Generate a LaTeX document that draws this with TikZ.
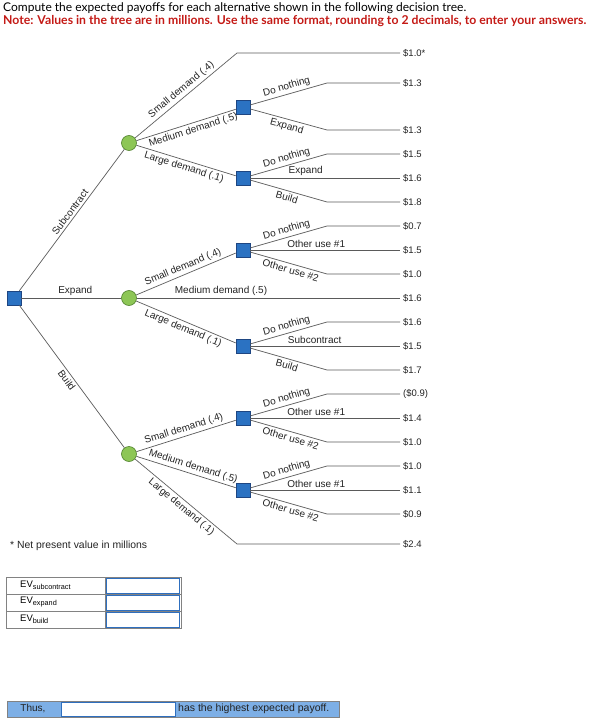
\documentclass[tikz,border=0pt]{standalone}
\usepackage{graphicx}
\usepackage{fontspec}
\setmainfont{Liberation Sans}
\newfontfamily\titlefont{Lato}
\definecolor{sqblue}{RGB}{43,114,194}
\definecolor{sqedge}{RGB}{30,70,130}
\definecolor{cgreen}{RGB}{141,198,86}
\definecolor{cedge}{RGB}{80,130,45}
\definecolor{linegray}{RGB}{90,90,90}
\definecolor{notered}{RGB}{196,26,22}
\definecolor{fieldblue}{RGB}{46,111,191}
\definecolor{barblue}{RGB}{125,175,230}
\definecolor{tablegray}{RGB}{130,130,130}
\definecolor{txt}{RGB}{35,35,35}
\begin{document}
\begin{tikzpicture}[x=1pt,y=-1pt,
  decision/.style={draw=sqedge,fill=sqblue,minimum size=14pt,inner sep=0pt,line width=0.6pt},
  chance/.style={circle,draw=cedge,fill=cgreen,minimum size=15pt,inner sep=0pt,line width=0.6pt},
  branch/.style={draw=linegray,line width=0.7pt},
  val/.style={anchor=west,inner xsep=3pt,inner ysep=0pt,font=\fontsize{9.5}{11}\selectfont,text=txt},
  lbl/.style={font=\fontsize{10}{12}\selectfont,inner sep=2.3pt,text=txt},
  field/.style={draw=fieldblue,line width=0.9pt,fill=white,minimum width=73pt,minimum height=15pt,inner sep=0pt},
  evlbl/.style={anchor=west,inner sep=0pt,font=\fontsize{9.5}{10}\selectfont,text=black},
  evsub/.style={}
]
\useasboundingbox (0,0) rectangle (592,727);

% title
\node[anchor=west,inner sep=0pt] (t1) at (3,8.5) {\resizebox{463pt}{!}{\titlefont\fontsize{10}{12}\selectfont Compute the expected payoffs for each alternative shown in the following decision tree.}};
\node[anchor=west,inner sep=0pt,text=notered] (t2) at (3,21.5) {\resizebox{583pt}{!}{\titlefont\bfseries\fontsize{10}{12}\selectfont Note: Values in the tree are in millions. Use the same format, rounding to 2 decimals, to enter your answers.}};

% main nodes
\node[decision] (root) at (14,298) {};
\node[chance] (cS) at (129,143) {};
\node[chance] (cE) at (129,298) {};
\node[chance] (cB) at (129,454) {};

\draw[branch] (root) -- node[lbl,sloped,above,pos=.53]{Subcontract} (cS);
\draw[branch] (root) -- node[lbl,above,pos=.54]{Expand} (cE);
\draw[branch] (root) -- node[lbl,sloped,below,pos=.5]{Build} (cB);

% ---------- Subcontract ----------
\coordinate (sS) at (237,53);
\node[val] (v1) at (400,53) {\$1.0*};
\draw[branch] (cS) -- node[lbl,sloped,above,pos=.5]{Small demand (.4)} (sS) -- (v1.west);
\node[decision] (d1) at (243,107) {};
\draw[branch] (cS) -- node[lbl,sloped,below,pos=.55]{Medium demand (.5)} (d1);
\node[decision] (d2) at (243,178) {};
\draw[branch] (cS) -- node[lbl,sloped,below,pos=.5]{Large demand (.1)} (d2);

\coordinate (b11) at (327,83);  \node[val] (v2) at (400,83) {\$1.3};
\draw[branch] (d1) -- node[lbl,sloped,above,pos=.5]{Do nothing} (b11) -- (v2.west);
\coordinate (b12) at (327,130); \node[val] (v3) at (400,130) {\$1.3};
\draw[branch] (d1) -- node[lbl,sloped,below,pos=.5]{Expand} (b12) -- (v3.west);

\coordinate (b21) at (327,154); \node[val] (v4) at (400,154) {\$1.5};
\draw[branch] (d2) -- node[lbl,sloped,above,pos=.5]{Do nothing} (b21) -- (v4.west);
\node[val] (v5) at (400,178) {\$1.6};
\draw[branch] (d2) -- node[lbl,above,pos=.37]{Expand} (v5.west);
\coordinate (b23) at (327,202); \node[val] (v6) at (400,202) {\$1.8};
\draw[branch] (d2) -- node[lbl,sloped,below,pos=.5]{Build} (b23) -- (v6.west);

% ---------- Expand ----------
\node[decision] (d3) at (243,250) {};
\draw[branch] (cE) -- node[lbl,sloped,above,pos=.5]{Small demand (.4)} (d3);
\node[val] (v10) at (400,298) {\$1.6};
\draw[branch] (cE) -- node[lbl,above,pos=.32]{Medium demand (.5)} (v10.west);
\node[decision] (d4) at (243,346) {};
\draw[branch] (cE) -- node[lbl,sloped,below,pos=.5]{Large demand (.1)} (d4);

\coordinate (b31) at (327,226); \node[val] (v7) at (400,226) {\$0.7};
\draw[branch] (d3) -- node[lbl,sloped,above,pos=.5]{Do nothing} (b31) -- (v7.west);
\node[val] (v8) at (400,250) {\$1.5};
\draw[branch] (d3) -- node[lbl,above,pos=.44]{Other use \#1} (v8.west);
\coordinate (b33) at (327,274); \node[val] (v9) at (400,274) {\$1.0};
\draw[branch] (d3) -- node[lbl,sloped,below,pos=.55]{Other use \#2} (b33) -- (v9.west);

\coordinate (b41) at (327,322); \node[val] (v11) at (400,322) {\$1.6};
\draw[branch] (d4) -- node[lbl,sloped,above,pos=.5]{Do nothing} (b41) -- (v11.west);
\node[val] (v12) at (400,346) {\$1.5};
\draw[branch] (d4) -- node[lbl,above,pos=.43]{Subcontract} (v12.west);
\coordinate (b43) at (327,370); \node[val] (v13) at (400,370) {\$1.7};
\draw[branch] (d4) -- node[lbl,sloped,below,pos=.5]{Build} (b43) -- (v13.west);

% ---------- Build ----------
\node[decision] (d5) at (243,418) {};
\draw[branch] (cB) -- node[lbl,sloped,above,pos=.5]{Small demand (.4)} (d5);
\node[decision] (d6) at (243,490) {};
\draw[branch] (cB) -- node[lbl,sloped,above,pos=.55]{Medium demand (.5)} (d6);
\coordinate (sB) at (237,544);
\node[val] (v20) at (400,544) {\$2.4};
\draw[branch] (cB) -- node[lbl,sloped,below,pos=.5]{Large demand (.1)} (sB) -- (v20.west);

\coordinate (b51) at (327,394); \node[val] (v14) at (400,394) {(\$0.9)};
\draw[branch] (d5) -- node[lbl,sloped,above,pos=.5]{Do nothing} (b51) -- (v14.west);
\node[val] (v15) at (400,418) {\$1.4};
\draw[branch] (d5) -- node[lbl,above,pos=.44]{Other use \#1} (v15.west);
\coordinate (b53) at (327,442); \node[val] (v16) at (400,442) {\$1.0};
\draw[branch] (d5) -- node[lbl,sloped,below,pos=.55]{Other use \#2} (b53) -- (v16.west);

\coordinate (b61) at (327,466); \node[val] (v17) at (400,466) {\$1.0};
\draw[branch] (d6) -- node[lbl,sloped,above,pos=.5]{Do nothing} (b61) -- (v17.west);
\node[val] (v18) at (400,490) {\$1.1};
\draw[branch] (d6) -- node[lbl,above,pos=.44]{Other use \#1} (v18.west);
\coordinate (b63) at (327,514); \node[val] (v19) at (400,514) {\$0.9};
\draw[branch] (d6) -- node[lbl,sloped,below,pos=.55]{Other use \#2} (b63) -- (v19.west);

% footnote
\node[anchor=west,inner sep=0pt,font=\fontsize{10.4}{12}\selectfont,text=txt] (fn) at (10,546) {* Net present value in millions};

% table
\draw[tablegray,line width=0.8pt] (6,577) rectangle (181,628);
\draw[tablegray,line width=0.8pt] (6,594) -- (181,594) (6,611) -- (181,611) (105,577) -- (105,628);
\node[field] (f1) at (143.2,585.5) {};
\node[field] (f2) at (143.2,602.5) {};
\node[field] (f3) at (143.2,619.5) {};
\node[evlbl] (e1) at (20,585) {EV\raisebox{-2pt}{\fontsize{7.3}{8}\selectfont subcontract}};
\node[evlbl] (e2) at (20,602) {EV\raisebox{-2pt}{\fontsize{7.3}{8}\selectfont expand}};
\node[evlbl] (e3) at (20,619) {EV\raisebox{-2pt}{\fontsize{7.3}{8}\selectfont build}};

% bottom bar
\draw[tablegray,line width=0.8pt,fill=barblue] (7,701) rectangle (339,717);
\node[draw=fieldblue,line width=0.9pt,fill=white,minimum width=114pt,minimum height=14pt,inner sep=0pt] (f4) at (118,709) {};
\node[inner sep=0pt,font=\fontsize{10}{11}\selectfont,text=txt] (thus) at (33,709) {Thus,};
\node[anchor=west,inner sep=0pt,font=\fontsize{10.5}{11}\selectfont,text=txt] (hh) at (178,709) {has the highest expected payoff.};
\end{tikzpicture}
\end{document}
